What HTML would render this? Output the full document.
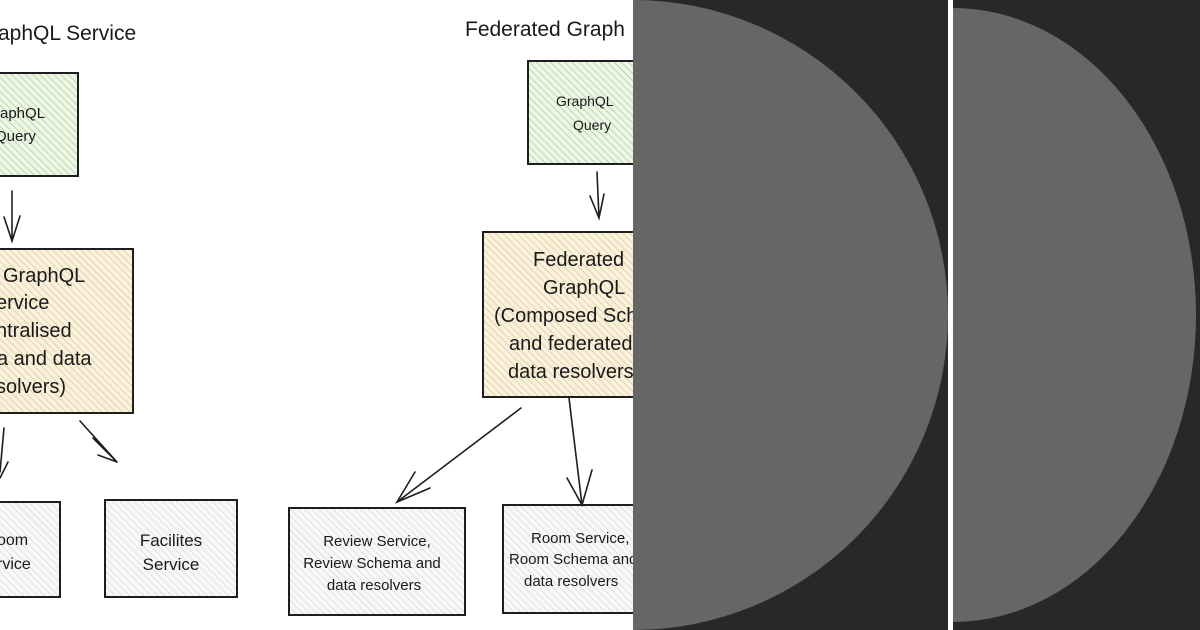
<!DOCTYPE html>
<html><head><meta charset="utf-8"><style>
html,body{margin:0;padding:0;background:#fff;}
svg{display:block;}
text{font-family:"Liberation Sans",sans-serif;fill:#1a1a1a;}
</style></head><body>
<svg width="1200" height="630" viewBox="0 0 1200 630" xmlns="http://www.w3.org/2000/svg">
<defs>
<pattern id="hg" width="5" height="5" patternUnits="userSpaceOnUse" patternTransform="rotate(-45)"><rect width="5" height="5" fill="#eef6e8"/><line x1="0" y1="0" x2="0" y2="5" stroke="#a9cf90" stroke-width="1.5"/></pattern>
<pattern id="ho" width="5" height="5" patternUnits="userSpaceOnUse" patternTransform="rotate(-45)"><rect width="5" height="5" fill="#faf2df"/><line x1="0" y1="0" x2="0" y2="5" stroke="#e0c88f" stroke-width="1.5"/></pattern>
<pattern id="hw" width="5" height="5" patternUnits="userSpaceOnUse" patternTransform="rotate(-45)"><rect width="5" height="5" fill="#f8f8f8"/><line x1="0" y1="0" x2="0" y2="5" stroke="#d2d2d2" stroke-width="1.2"/></pattern>
</defs>
<rect width="1200" height="630" fill="#fff"/>
<g stroke="#1e1e1e" stroke-width="2">
<rect x="-10" y="73" width="88" height="103" fill="url(#hg)"/>
<rect x="-10" y="249" width="143" height="164" fill="url(#ho)"/>
<rect x="-10" y="502" width="70" height="95" fill="url(#hw)"/>
<rect x="105" y="500" width="132" height="97" fill="url(#hw)"/>
<rect x="528" y="61" width="120" height="103" fill="url(#hg)"/>
<rect x="483" y="232" width="170" height="165" fill="url(#ho)"/>
<rect x="289" y="508" width="176" height="107" fill="url(#hw)"/>
<rect x="503" y="505" width="150" height="108" fill="url(#hw)"/>
</g>
<g stroke="#1e1e1e" stroke-width="1.6" fill="none" stroke-linecap="round">
<path d="M12 191 L12 241 M4 217 L12 241 L20 216"/>
<path d="M4 428 L0 472 M8 462 L0 478"/>
<path d="M80 421 L117 462 M93 438 L117 462 L98 455"/>
<path d="M597 172 L599 218 M590 196 L599 218 L604 194"/>
<path d="M521 408 L397 502 M415 472 L397 502 L430 488"/>
<path d="M569 398 L582 505 M567 478 L582 505 L592 470"/>
</g>
<text x="-2" y="40" font-size="21">aphQL Service</text>
<text x="465" y="36" font-size="21">Federated Graph</text>
<text x="-5" y="118" font-size="15">raphQL</text>
<text x="-5" y="141" font-size="15">Query</text>
<text x="3" y="282" font-size="20">GraphQL</text>
<text x="-4" y="309" font-size="20">ervice</text>
<text x="-4" y="337" font-size="20">ntralised</text>
<text x="-3" y="365" font-size="20">a and data</text>
<text x="-4" y="393" font-size="20">solvers)</text>
<text x="-3" y="545" font-size="16">oom</text>
<text x="-3" y="569" font-size="16">rvice</text>
<text x="171" y="546" font-size="17" text-anchor="middle">Facilites</text>
<text x="171" y="570" font-size="17" text-anchor="middle">Service</text>
<text x="556" y="106" font-size="14">GraphQL</text>
<text x="573" y="130" font-size="14">Query</text>
<text x="533" y="266" font-size="20">Federated</text>
<text x="543" y="294" font-size="20">GraphQL</text>
<text x="494" y="322" font-size="20">(Composed Schema</text>
<text x="509" y="350" font-size="20">and federated</text>
<text x="508" y="378" font-size="20">data resolvers</text>
<text x="377" y="546" font-size="15" text-anchor="middle">Review Service,</text>
<text x="372" y="568" font-size="15" text-anchor="middle">Review Schema and</text>
<text x="374" y="590" font-size="15" text-anchor="middle">data resolvers</text>
<text x="531" y="543" font-size="15">Room Service,</text>
<text x="509" y="564" font-size="15">Room Schema and</text>
<text x="524" y="586" font-size="15">data resolvers</text>
<rect x="633" y="0" width="315" height="630" fill="#282828"/>
<path d="M633 0 A315 315 0 0 1 633 630 Z" fill="#666666"/>
<rect x="948" y="0" width="5" height="630" fill="#ffffff"/>
<rect x="953" y="0" width="247" height="630" fill="#282828"/>
<path d="M953 8 A243 307 0 0 1 953 622 Z" fill="#666666"/>
</svg>
</body></html>
